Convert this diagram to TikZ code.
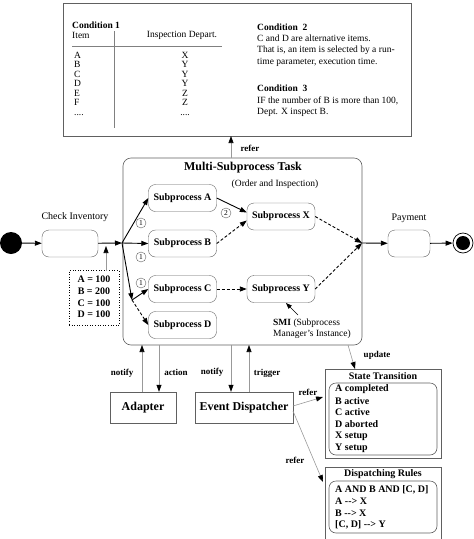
\documentclass[tikz,border=0pt]{standalone}
\usepackage{fontspec}
\setmainfont{Liberation Serif}
\usetikzlibrary{arrows.meta,calc}
\tikzset{
  fs/.style={font=\fontsize{#1}{#1}\selectfont},
  bfs/.style={font=\bfseries\fontsize{#1}{#1}\selectfont},
  tip/.style={-{Triangle[length=7pt,width=5pt]}},
  arr/.style={tip, line width=0.9pt, black},
  darr/.style={arr, dash pattern=on 3pt off 2pt},
  thinarr/.style={draw=gray!80, line width=0.6pt, -{Triangle[length=7pt,width=5pt,fill=black,color=black]}},
  sub/.style={draw=gray!75!black, rounded corners=7pt, minimum width=68pt, minimum height=27pt, inner sep=0pt, bfs=10},
  stbox/.style={draw=gray!75!black, rounded corners=7pt, minimum height=27pt, inner sep=0pt},
  num/.style={circle, draw=gray!75!black, inner sep=0.6pt, minimum size=10pt, fs=7.5},
  bigbox/.style={draw=gray!75!black, inner sep=0pt, bfs=12},
  lbl/.style={bfs=9, inner sep=1pt},
  txt/.style={fs=9.5, inner sep=0pt, anchor=west},
}
\begin{document}
\begin{tikzpicture}[x=1pt,y=-1pt]
\useasboundingbox (0,0) rectangle (474,539);
% Condition box
\draw[gray!75!black, line width=0.6pt] (63,3) rectangle (411,136);
\node[txt, font=\bfseries\fontsize{9.5}{9.5}\selectfont] (c1) at (72,25) {Condition 1};
\node[txt] (item) at (72,35) {Item};
\node[fs=9.5, inner sep=0pt] (insp) at (182,35) {Inspection Depart.};
\draw[gray, line width=0.5pt] (114,31) -- (114,128);
\draw[gray, line width=0.5pt] (72,46) -- (222,46);
\foreach \i/\d/\y in {A/X/55, B/Y/64.5, C/Y/74, D/Y/83.5, E/Z/93, F/Z/102.5} {
  \node[txt] (r\i) at (74,\y) {\i};
  \node[fs=9.5, inner sep=0pt] (d\i) at (185,\y) {\d};
}
\node[txt] (rdots) at (74,115) {....};
\node[fs=9.5, inner sep=0pt] (ddots) at (185,115) {....};
\node[txt, font=\bfseries\fontsize{9.5}{9.5}\selectfont] (c2) at (257,27) {Condition~~2};
\node[txt] (c2a) at (257,38.5) {C and D are alternative items.};
\node[txt] (c2b) at (257,50) {That is, an item is selected by a run-};
\node[txt] (c2c) at (257,62) {time parameter, execution time.};
\node[txt, font=\bfseries\fontsize{9.5}{9.5}\selectfont] (c3) at (257,88) {Condition~~3};
\node[txt] (c3a) at (257,100.5) {IF the number of B is more than 100,};
\node[txt] (c3b) at (257,112.5) {Dept. X inspect B.};

% Multi-subprocess box
\draw[gray!75!black, line width=0.6pt, rounded corners=8pt] (123,158) rectangle (362,345);
\node[bfs=12, inner sep=0pt] (mtitle) at (243,168) {Multi-Subprocess Task};
\node[fs=9.5, inner sep=0pt] (msub) at (275,184) {(Order and Inspection)};

% refer to conditions
\coordinate (mtop) at (231,158);
\coordinate (cbot) at (231,136);
\draw[thinarr] (mtop) -- (cbot);
\node[lbl] (referT) at (250,148) {refer};

% nodes
\node[fs=10, inner sep=0pt] (cilbl) at (75,217) {Check Inventory};
\node[stbox, minimum width=56pt] (ci) at (70,243.5) {};
\node[fs=10, inner sep=0pt] (paylbl) at (409,218) {Payment};
\node[stbox, minimum width=42pt] (pay) at (409,243.5) {};
\node[circle, fill=black, minimum size=22pt, inner sep=0pt] (start) at (11,243) {};
\node[circle, draw=black, line width=0.7pt, minimum size=20pt, inner sep=0pt] (endo) at (463,243) {};
\node[circle, fill=black, minimum size=14pt, inner sep=0pt] (endi) at (463,243) {};

\node[sub] (A) at (182.5,198) {Subprocess A};
\node[sub] (B) at (182.5,243.5) {Subprocess B};
\node[sub] (C) at (182.5,289) {Subprocess C};
\node[sub] (D) at (182.5,325) {Subprocess D};
\node[sub] (X) at (281,216.5) {Subprocess X};
\node[sub] (Y) at (281,289) {Subprocess Y};

\coordinate (f1) at (122,243);
\coordinate (f2) at (132,300);
\coordinate (j1) at (362,243);

\draw[arr] (start) -- (ci);
\draw[arr] (ci) -- (f1);
\draw[arr] (f1) -- (A.west);
\draw[arr] (f1) -- (B.west);
\draw[arr] (f1) -- (f2);
\draw[arr] (f2) -- (C.west);
\draw[darr] (f2) -- (D.west);
\draw[arr] (A.east) -- ($(X.west)+(0,-4)$);
\draw[darr] (B.east) -- ($(X.west)+(0,4)$);
\draw[darr] (C.east) -- (Y.west);
\draw[darr] (X.east) -- (j1);
\draw[darr] (Y.east) -- (j1);
\draw[arr] (j1) -- (pay);
\draw[arr] (pay) -- (endo);

\node[num] (n1) at (141,223) {1};
\node[num] (n2) at (141,257) {1};
\node[num] (n3) at (141,283) {1};
\node[num] (n4) at (226,213) {2};

% input values
\node[draw=black, dotted, line width=0.6pt, minimum width=50pt, minimum height=55pt, inner sep=0pt] (inp) at (94,298) {};
\foreach \t/\v/\y in {A/100/279, B/200/291, C/100/303, D/100/314} {
  \node[bfs=10, inner sep=0pt] (v\t) at (94,\y) {\t{} = \v};
}
\coordinate (inpt) at (106,270.5);
\coordinate (inpa) at (106,246);
\draw[thinarr] (inpt) -- (inpa);

% SMI
\coordinate (smi1) at (298,315);
\coordinate (smi2) at (286,303);
\draw[black, line width=0.6pt, -{Triangle[length=6pt,width=4.5pt]}] (smi1) -- (smi2);
\node[txt, fs=9.5] (smiA) at (273,323) {\textbf{SMI} (Subprocess};
\node[txt, fs=9.5] (smiB) at (273,334) {Manager's Instance)};

% bottom boxes
\node[bigbox, minimum width=66pt, minimum height=31pt] (adp) at (143,407.5) {Adapter};
\node[bigbox, minimum width=98pt, minimum height=31pt] (ed) at (244,407.5) {Event Dispatcher};
\coordinate (m1) at (142,345);
\coordinate (m2) at (159,345);
\coordinate (m3) at (231,345);
\coordinate (m4) at (249,345);
\draw[thinarr] (adp.north -| m1) -- (m1);
\draw[thinarr] (m2) -- (adp.north -| m2);
\draw[thinarr] (m3) -- (ed.north -| m3);
\draw[thinarr] (ed.north -| m4) -- (m4);
\node[lbl] (ln1) at (122,373) {notify};
\node[lbl] (la) at (176,372) {action};
\node[lbl] (ln2) at (212,372) {notify};
\node[lbl] (lt) at (267,373) {trigger};

% State transition
\draw[gray!75!black, line width=0.6pt] (325,369) rectangle (441,458);
\node[bfs=10, inner sep=0pt] (stt) at (383,376) {State Transition};
\draw[gray!75!black, line width=0.6pt, rounded corners=7pt] (329,383) rectangle (437,455);
\foreach \t/\y in {A completed/389, B active/401, C active/412.5, D aborted/424, X setup/436, Y setup/448} {
  \node[txt, font=\bfseries\fontsize{10}{10}\selectfont] at (335,\y) {\t};
}
% Dispatching rules
\draw[gray!75!black, line width=0.6pt] (325,467) rectangle (441,539.5);
\node[bfs=10, inner sep=0pt] (drt) at (383,474) {Dispatching Rules};
\draw[gray!75!black, line width=0.6pt, rounded corners=7pt] (329,481) rectangle (437,533);
\foreach \t/\y in {A AND B AND [C{,} D]/490, A -{}-{}> X/501.5, B -{}-{}> X/513, [C{,} D] -{}-{}> Y/524.5} {
  \node[txt, font=\bfseries\fontsize{10}{10}\selectfont] at (335,\y) {\t};
}
\coordinate (st1) at (323,397);
\coordinate (dr1) at (323,482);
\coordinate (ed1) at (293,406);
\coordinate (ed2) at (293,411);
\draw[thinarr] (ed1) -- (st1);
\draw[thinarr] (ed2) -- (dr1);
\node[lbl] (lr1) at (308,392) {refer};
\node[lbl] (lr2) at (295,460) {refer};
\coordinate (up1) at (348,345);
\coordinate (up2) at (355,369);
\draw[thinarr] (up1) -- (up2);
\node[lbl] (lu) at (377,355) {update};
\end{tikzpicture}
\end{document}
